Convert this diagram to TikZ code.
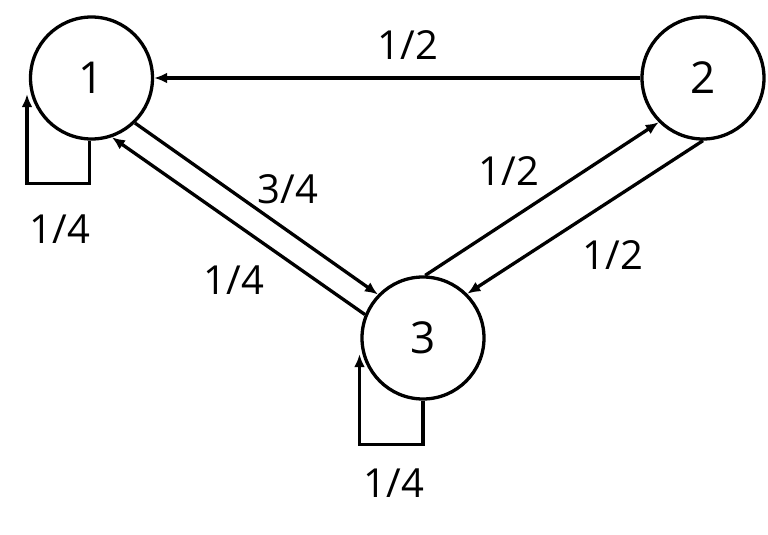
\documentclass[tikz,border=0pt]{standalone}
\usepackage{fontspec}
\setmainfont{Open Sans}
\usetikzlibrary{arrows.meta}

\begin{document}
\begin{tikzpicture}[x=1pt,y=-1pt,line width=3.3pt,
        state/.style={draw,circle,minimum size=122pt,inner sep=0pt,
            font=\fontsize{44}{48}\selectfont},
        weight/.style={font=\fontsize{40}{44}\selectfont},
        edge/.style={-{Latex[length=13pt,width=11pt]}}]
        \useasboundingbox (0,0) rectangle (768,535);
        % States
        \node[state] (s1) at (91.5,78) {1};
        \node[state] (s2) at (703,78) {2};
        \node[state] (s3) at (423,338) {3};

        % Transitions
        \draw[edge] (s2.west) -- (s1.east);
        \draw[edge] (s1.-46) -- (s3.136);
        \draw[edge] (s3.158) -- (s1.-71);
        \draw[edge] (s3.88) -- (s2.-135);
        \draw[edge] (s2.-90) -- (s3.45);
        \draw[edge] ([xshift=-2pt]s1.south) -- ++(0,43) -| ([xshift=-4pt]s1.195);%self loop
        \draw[edge] (s3.south) -- ++(0,44) -| ([xshift=-3pt]s3.195);%self loop

        % Weights
        \node[weight] (w21) at (408,45) {1/2};
        \node[weight] (w13) at (288,189) {3/4};
        \node[weight] (w31) at (234,280) {1/4};
        \node[weight] (w11) at (60,229) {1/4};
        \node[weight] (w32) at (509,171) {1/2};
        \node[weight] (w23) at (613,255) {1/2};
        \node[weight] (w33) at (394,483) {1/4};
\end{tikzpicture}
\end{document}
